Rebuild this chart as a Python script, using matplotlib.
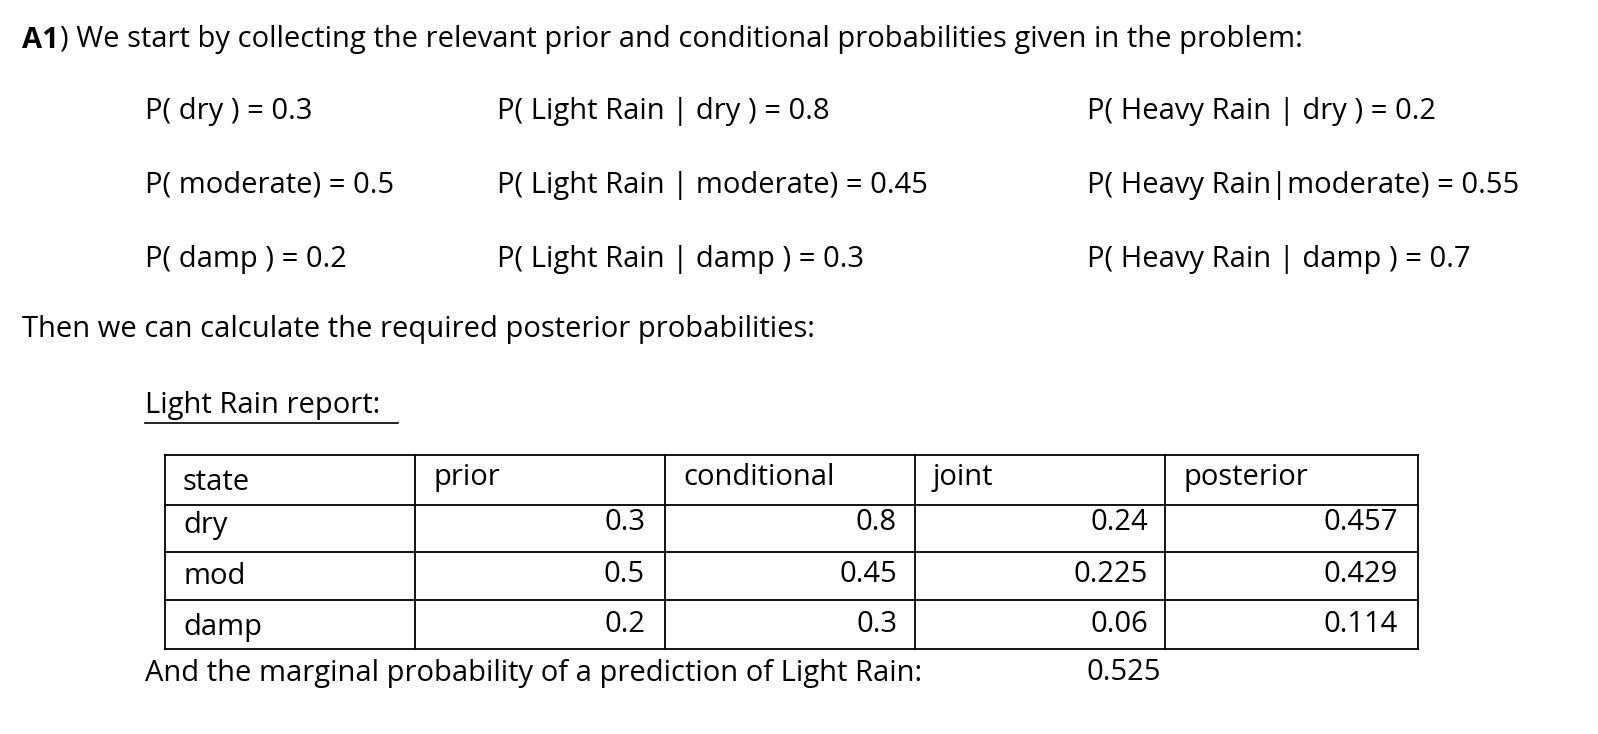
import matplotlib
matplotlib.use("Agg")
import matplotlib.pyplot as plt
from matplotlib.lines import Line2D

W, H = 1598, 734
fig = plt.figure(figsize=(W/100, H/100), dpi=100)
fig.patch.set_facecolor("white")
FONT = ["Open Sans", "DejaVu Sans"]
FS = 21

def T(x, y, s, ha="left", **kw):
    return fig.text(x/W, 1-y/H, s, ha=ha, va="center", fontsize=FS, family=FONT, **kw)

def L(x0, y0, x1, y1, lw=1.3):
    fig.add_artist(Line2D([x0/W, x1/W], [1-y0/H, 1-y1/H], color="black", lw=lw))

priors = ["P( dry ) = 0.3", "P( moderate) = 0.5", "P( damp ) = 0.2"]
light = ["P( Light Rain | dry ) = 0.8", "P( Light Rain | moderate) = 0.45", "P( Light Rain | damp ) = 0.3"]
heavy = ["P( Heavy Rain | dry ) = 0.2", "P( Heavy Rain|moderate) = 0.55", "P( Heavy Rain | damp ) = 0.7"]

headers = ["state", "prior", "conditional", "joint", "posterior"]
states = ["dry", "mod", "damp"]
prior_v = ["0.3", "0.5", "0.2"]
cond_v = ["0.8", "0.45", "0.3"]
joint_v = ["0.24", "0.225", "0.06"]
post_v = ["0.457", "0.429", "0.114"]
marginal = "0.525"

a1 = T(22, 40, "A1", weight="bold")
fig.canvas.draw()
bb = a1.get_window_extent()
T(bb.x1 + 1, 40, ") We start by collecting the relevant prior and conditional probabilities given in the problem:")
for i, y in enumerate([111, 185, 259]):
    T(145, y, priors[i]); T(497, y, light[i]); T(1087, y, heavy[i])
T(22, 329, "Then we can calculate the required posterior probabilities:")
T(145, 405, "Light Rain report:")
L(145, 423, 398, 423, lw=1.2)

cols = [165, 415, 665, 915, 1165, 1418]
rows = [455, 505, 552, 600, 649]
for y in rows:
    L(cols[0], y, cols[-1], y)
for x in cols:
    L(x, rows[0], x, rows[-1])
hy = [482, 478, 478, 478, 478]
for j, h in enumerate(headers):
    T(cols[j] + 18, hy[j], h)
tys = [525, 577, 627]
for i in range(3):
    T(cols[0] + 18, tys[i], states[i])
    T(cols[2] - 20, tys[i] - 2, prior_v[i], ha="right")
    T(cols[3] - 18, tys[i] - 2, cond_v[i], ha="right")
    T(cols[4] - 17, tys[i] - 2, joint_v[i], ha="right")
    T(cols[5] - 20, tys[i] - 2, post_v[i], ha="right")
T(145, 673, "And the marginal probability of a prediction of Light Rain:")
T(1087, 673, marginal)

fig.savefig("out.png", dpi=100, facecolor="white")
